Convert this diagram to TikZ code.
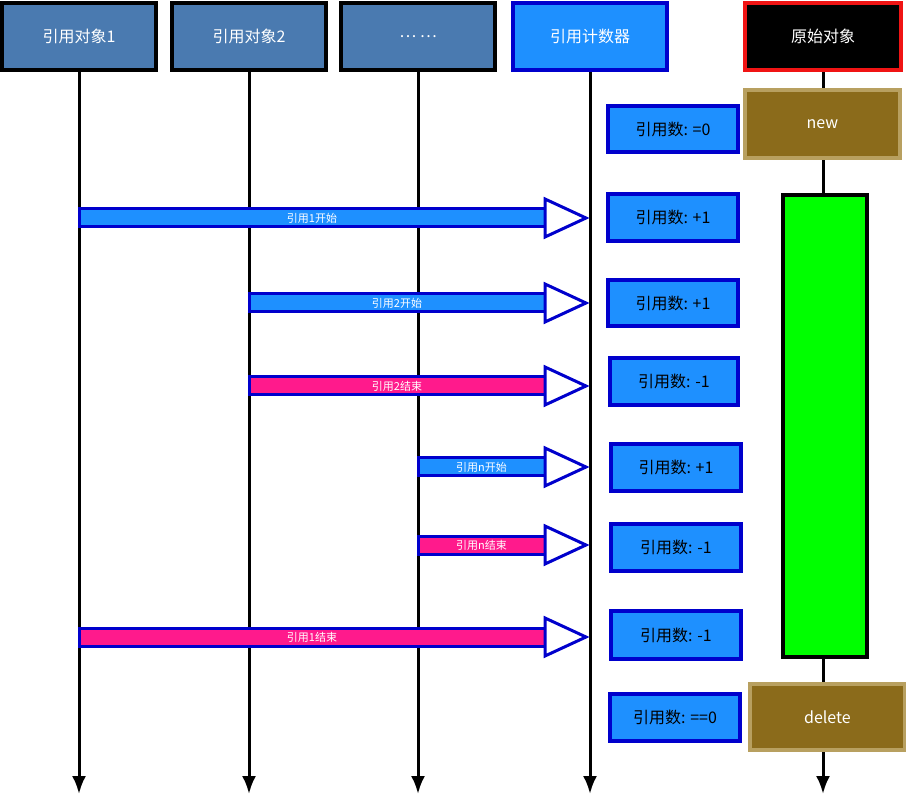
\documentclass[tikz,border=0pt]{standalone}
\usepackage{fontspec}
\setmainfont{Noto Sans CJK SC}
\usetikzlibrary{arrows.meta}
\definecolor{hdr}{HTML}{4A7AB0}
\definecolor{cblue}{HTML}{1E90FF}
\definecolor{dblue}{HTML}{0000CC}
\definecolor{cpink}{HTML}{FF1A8C}
\definecolor{olive}{HTML}{8B6B1B}
\definecolor{olivebd}{HTML}{B8A060}
\tikzset{
 hbox/.style={draw=black,line width=3.5pt,fill=hdr,text=white,font=\fontsize{16}{16}\selectfont},
 cbox/.style={draw=dblue,line width=3.5pt,fill=cblue,text=black,font=\fontsize{16}{16}\selectfont},
 obox/.style={draw=olivebd,line width=3.5pt,fill=olive,text=white,font=\fontsize{16}{16}\selectfont},
 life/.style={line width=3pt,-{Latex[length=18pt,width=14pt]}},
 bar/.style={draw=dblue,line width=3pt},
 lbl/.style={text=white,font=\fontsize{11}{11}\selectfont},
}
\begin{document}
\begin{tikzpicture}[x=1pt,y=-1pt]
\useasboundingbox (0,0) rectangle (906,802);
% lifelines
\foreach \n/\x in {a/79,b/249,c/418,d/590}{
  \coordinate (\n top) at (\x,70); \coordinate (\n end) at (\x,794);
  \draw[life] (\n top) -- (\n end);}
\coordinate (etop) at (823,70); \coordinate (eend) at (823,794);
\draw[life] (etop) -- (eend);
% headers
\node[hbox,minimum width=154pt,minimum height=67pt] (h1) at (79,36.5) {引用对象1};
\node[hbox,minimum width=154pt,minimum height=67pt] (h2) at (249,36.5) {引用对象2};
\node[hbox,minimum width=154pt,minimum height=67pt] (h3) at (418,36.5) {… …};
\node[hbox,draw=dblue,fill=cblue,minimum width=154pt,minimum height=67pt] (h4) at (590,36.5) {引用计数器};
\node[hbox,draw={rgb,255:red,240;green,20;blue,20},fill=black,minimum width=156pt,minimum height=67pt] (h5) at (823,36.5) {原始对象};
% object boxes
\node[obox,minimum width=155pt,minimum height=68pt] (new) at (822.5,124) {new};
\node[draw=black,line width=3.5pt,fill={rgb,255:red,0;green,255;blue,0},minimum width=84pt,minimum height=462pt] (alive) at (825,426) {};
\node[obox,minimum width=155pt,minimum height=66pt] (del) at (827.5,717) {delete};
% counter boxes
\node[cbox,minimum width=130pt,minimum height=46pt] (c1) at (673,129) {引用数: =0};
\node[cbox,minimum width=130pt,minimum height=47pt] (c2) at (673,217.5) {引用数: +1};
\node[cbox,minimum width=130pt,minimum height=46pt] (c3) at (673,303) {引用数: +1};
\node[cbox,minimum width=128pt,minimum height=47pt] (c4) at (674,381.5) {引用数: -1};
\node[cbox,minimum width=130pt,minimum height=47pt] (c5) at (676,467.5) {引用数: +1};
\node[cbox,minimum width=130pt,minimum height=47pt] (c6) at (676,547.5) {引用数: -1};
\node[cbox,minimum width=130pt,minimum height=48pt] (c7) at (676,635) {引用数: -1};
\node[cbox,minimum width=130pt,minimum height=47pt] (c8) at (675,717.5) {引用数: ==0};
% arrows
\foreach \i/\x/\y/\col/\t in {1/79/218/cblue/引用1开始,2/249/303/cblue/引用2开始,3/249/386/cpink/引用2结束,4/418/467/cblue/引用n开始,5/418/545/cpink/引用n结束,6/79/637/cpink/引用1结束}{
  \coordinate (s\i) at (\x,\y); \coordinate (t\i) at (586,\y);
  \draw[bar,fill=\col] (\x,\y-9) rectangle (545,\y+9);
  \node[lbl] at ({(\x+545)/2},\y) {\t};
  \draw[bar,fill=white,line join=miter] (545,\y-19) -- (t\i) -- (545,\y+19) -- cycle;
}
\end{tikzpicture}
\end{document}
